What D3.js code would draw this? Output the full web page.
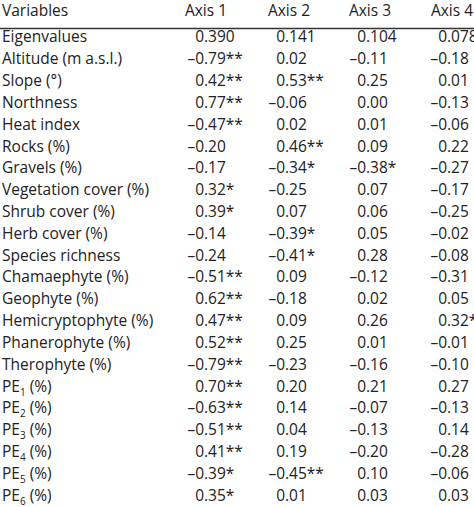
<!DOCTYPE html>
<html lang="en">
<head>
<meta charset="UTF-8">
<title>Table</title>
<style>
body{margin:0;background:#fff}
text{font-family:"Open Sans",sans-serif;font-size:15.5px;fill:#222}
</style>
</head>
<body>
<script src="https://cdn.jsdelivr.net/npm/d3@7"></script>
<script>
var headers=['Variables','Axis 1','Axis 2','Axis 3','Axis 4']
var variables=['Eigenvalues','Altitude (m a.s.l.)','Slope (°)','Northness','Heat index','Rocks (%)','Gravels (%)',
  'Vegetation cover (%)','Shrub cover (%)','Herb cover (%)','Species richness','Chamaephyte (%)','Geophyte (%)',
  'Hemicryptophyte (%)','Phanerophyte (%)','Therophyte (%)','PE|1| (%)','PE|2| (%)','PE|3| (%)','PE|4| (%)','PE|5| (%)','PE|6| (%)']
var axis1=['0.390','–0.79**','0.42**','0.77**','–0.47**','–0.20','–0.17','0.32*','0.39*','–0.14','–0.24','–0.51**','0.62**','0.47**','0.52**','–0.79**','0.70**','–0.63**','–0.51**','0.41**','–0.39*','0.35*']
var axis2=['0.141','0.02','0.53**','–0.06','0.02','0.46**','–0.34*','–0.25','0.07','–0.39*','–0.41*','0.09','–0.18','0.09','0.25','–0.23','0.20','0.14','0.04','0.19','–0.45**','0.01']
var axis3=['0.104','–0.11','0.25','0.00','0.01','0.09','–0.38*','0.07','0.06','0.05','0.28','–0.12','0.02','0.26','0.01','–0.16','0.21','–0.07','–0.13','–0.20','0.10','0.03']
var axis4=['0.078','–0.18','0.01','–0.13','–0.06','0.22','–0.27','–0.17','–0.25','–0.02','–0.08','–0.31','0.05','0.32*','–0.01','–0.10','0.27','–0.13','0.14','–0.28','–0.06','0.03']
var cols=[axis1,axis2,axis3,axis4]

var width=474,height=507
var svg=d3.select('body').append('svg').attr('width',width).attr('height',height)

var y=d3.scaleBand().domain(d3.range(variables.length)).range([26,506]).padding(0)
var x=d3.scalePoint().domain(d3.range(4)).range([204,447])
var headX=[206,289,370,452]

svg.append('text').attr('x',2).attr('y',16).text(headers[0])
svg.selectAll('.hd').data(headers.slice(1)).join('text').attr('class','hd')
  .attr('x',(d,i)=>headX[i]).attr('y',16).attr('text-anchor','middle').text(d=>d)
svg.append('line').attr('x1',0).attr('x2',width).attr('y1',28.5).attr('y2',28.5)
  .attr('stroke','#333').attr('stroke-width',1.6)

var rows=svg.selectAll('.row').data(variables).join('g').attr('class','row')
  .attr('transform',(d,i)=>'translate(0,'+(y(i)+y.bandwidth()/2+5.5)+')')

rows.append('text').attr('x',2).each(function(d){
  var parts=d.split('|'),t=d3.select(this)
  t.append('tspan').text(parts[0])
  if(parts.length>1){
    t.append('tspan').attr('font-size','10px').attr('dy',4).text(parts[1])
    t.append('tspan').attr('dy',-4).text(parts[2])
  }
})

cols.forEach(function(col,c){
  rows.each(function(d,i){
    var v=col[i],k=v.indexOf('.'),g=d3.select(this)
    g.append('text').attr('x',x(c)).attr('text-anchor','end').text(v.slice(0,k))
    g.append('text').attr('x',x(c)).text(v.slice(k))
  })
})
</script>
</body>
</html>
